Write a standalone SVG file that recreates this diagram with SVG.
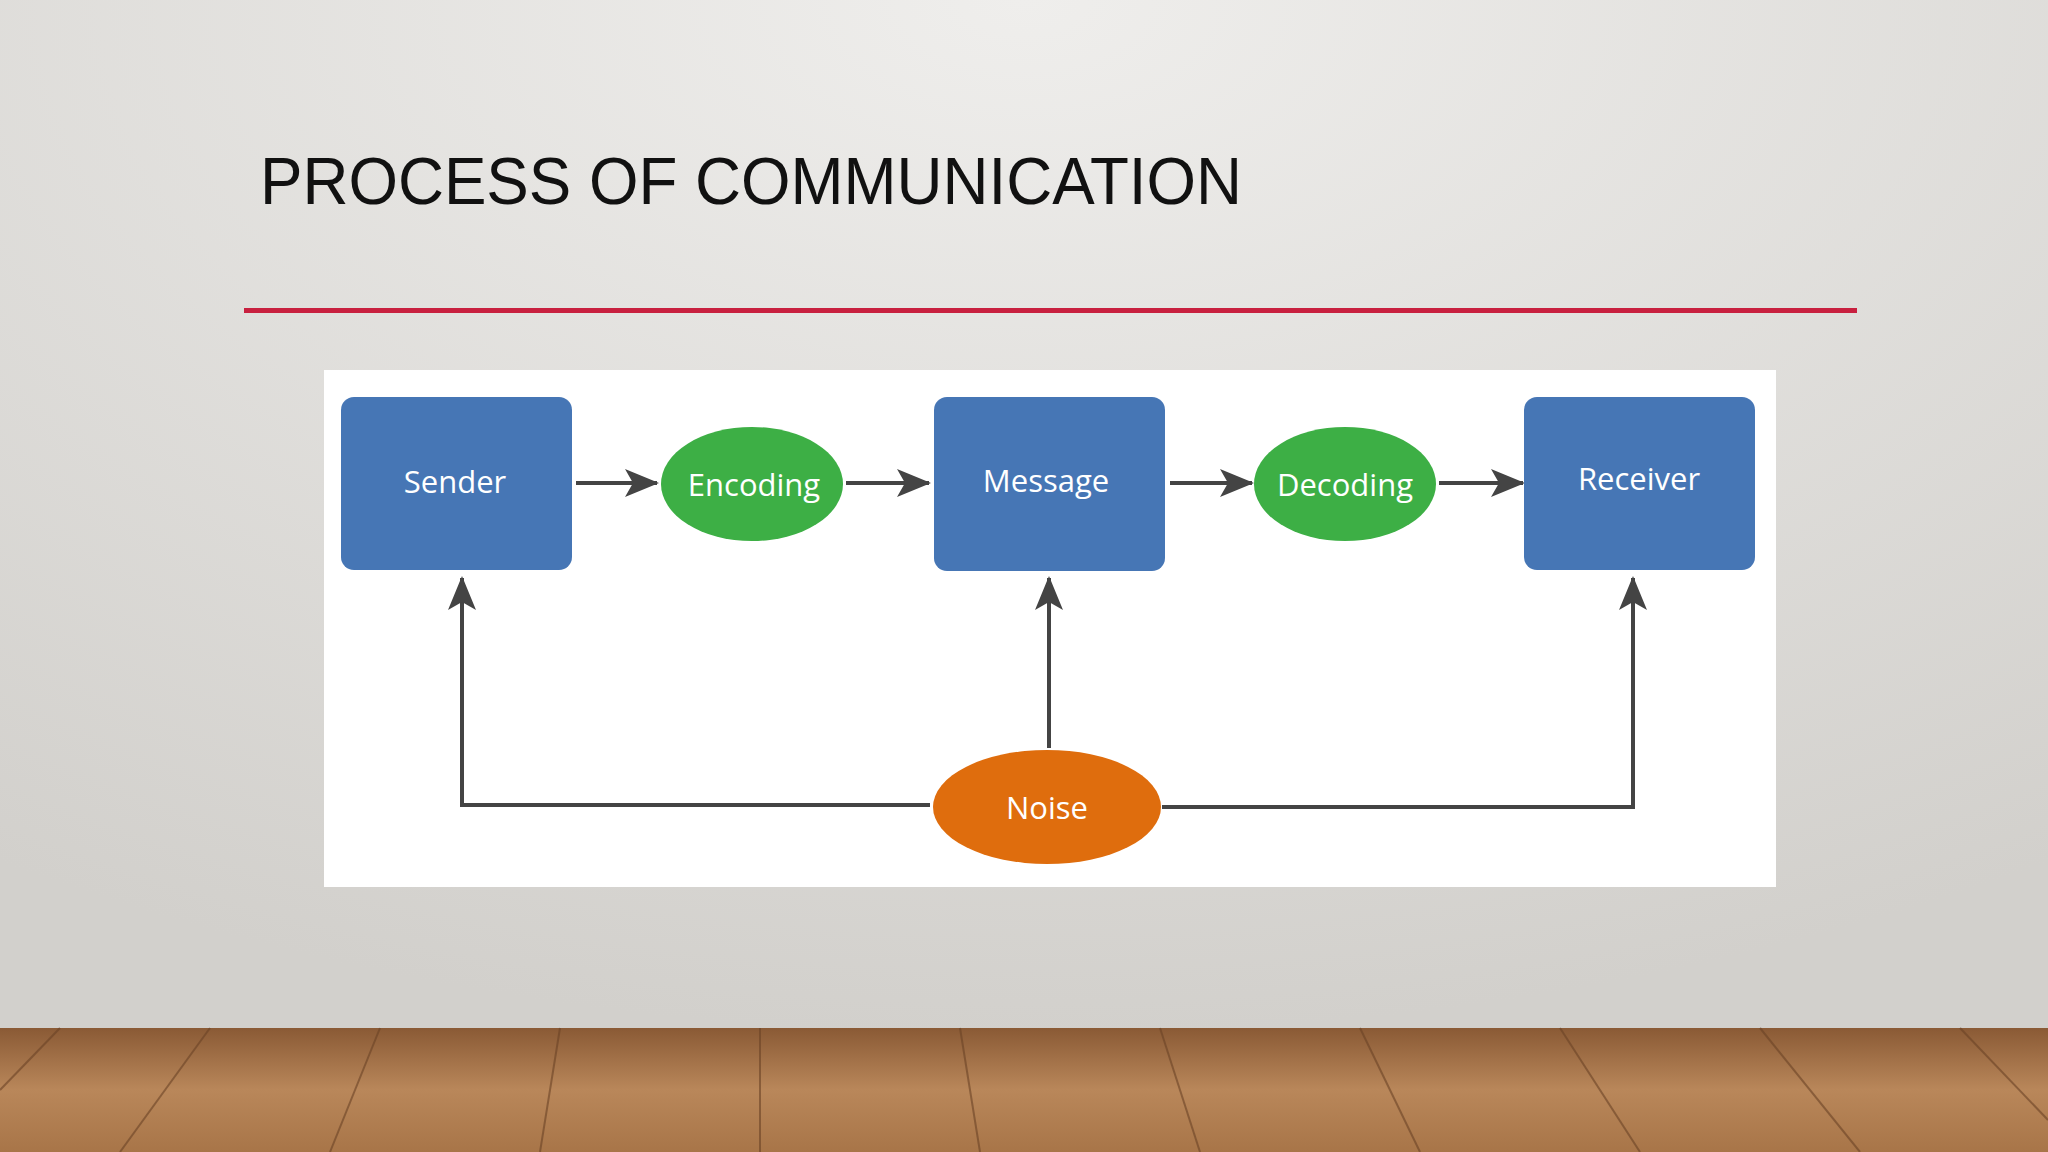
<svg xmlns="http://www.w3.org/2000/svg" width="2048" height="1152" viewBox="0 0 2048 1152">
<defs>
<radialGradient id="bg" cx="0.5" cy="0" r="0.9">
<stop offset="0" stop-color="#efeeec"/><stop offset="1" stop-color="#d2d0cc"/></radialGradient>
<linearGradient id="wood" x1="0" y1="0" x2="0" y2="1">
<stop offset="0" stop-color="#8a5a35"/><stop offset="0.5" stop-color="#b9875a"/><stop offset="1" stop-color="#a87548"/></linearGradient>
<marker id="ah" markerWidth="34" markerHeight="30" refX="32" refY="15" orient="auto" markerUnits="userSpaceOnUse" viewBox="0 0 34 30">
<path d="M0,1 L34,15 L0,29 L8,15 z" fill="#444"/></marker>
<style>
.box{fill:#4676b5}
.lbl{font-family:"Open Sans","Liberation Sans",sans-serif;font-size:31px;fill:#fff;text-anchor:middle;dominant-baseline:central}
.c{stroke:#444;stroke-width:4;fill:none}
.a{marker-end:url(#ah)}
</style>
</defs>
<rect width="2048" height="1152" fill="url(#bg)"/>
<rect y="1028" width="2048" height="124" fill="url(#wood)"/>
<g stroke="#6b4326" stroke-width="2" opacity="0.6">
<line x1="0" y1="1090" x2="60" y2="1028"/><line x1="120" y1="1152" x2="210" y2="1028"/><line x1="330" y1="1152" x2="380" y2="1028"/><line x1="540" y1="1152" x2="560" y2="1028"/><line x1="760" y1="1152" x2="760" y2="1028"/><line x1="980" y1="1152" x2="960" y2="1028"/><line x1="1200" y1="1152" x2="1160" y2="1028"/><line x1="1420" y1="1152" x2="1360" y2="1028"/><line x1="1640" y1="1152" x2="1560" y2="1028"/><line x1="1860" y1="1152" x2="1760" y2="1028"/><line x1="2048" y1="1120" x2="1960" y2="1028"/>
</g>
<text x="260" y="204" font-family="Liberation Sans,sans-serif" font-size="66" fill="#111" textLength="982" lengthAdjust="spacingAndGlyphs">PROCESS OF COMMUNICATION</text>
<rect x="244" y="308" width="1613" height="5" fill="#c8203f"/>
<rect x="324" y="370" width="1452" height="517" fill="#fff"/>
<g id="connectors">
<line class="c a" x1="576" y1="483" x2="657" y2="483"/>
<line class="c a" x1="846" y1="483" x2="929" y2="483"/>
<line class="c a" x1="1170" y1="483" x2="1252" y2="483"/>
<line class="c a" x1="1439" y1="483" x2="1523" y2="483"/>
<polyline class="c a" points="930,805 462,805 462,578"/>
<line class="c a" x1="1049" y1="748" x2="1049" y2="578"/>
<polyline class="c a" points="1162,807 1633,807 1633,578"/>
</g>
<g id="sender"><rect class="box" x="341" y="397" width="231" height="173" rx="13"/><text class="lbl" x="455" y="481">Sender</text></g>
<g id="encoding"><ellipse cx="752" cy="484" rx="91" ry="57" fill="#3daf45"/><text class="lbl" x="754" y="484">Encoding</text></g>
<g id="message"><rect class="box" x="934" y="397" width="231" height="174" rx="13"/><text class="lbl" x="1046" y="480">Message</text></g>
<g id="decoding"><ellipse cx="1345" cy="484" rx="91" ry="57" fill="#3daf45"/><text class="lbl" x="1345" y="484">Decoding</text></g>
<g id="receiver"><rect class="box" x="1524" y="397" width="231" height="173" rx="13"/><text class="lbl" x="1639" y="478">Receiver</text></g>
<g id="noise"><ellipse cx="1047" cy="807" rx="114" ry="57" fill="#df6d0d"/><text class="lbl" x="1047" y="807">Noise</text></g>
</svg>
